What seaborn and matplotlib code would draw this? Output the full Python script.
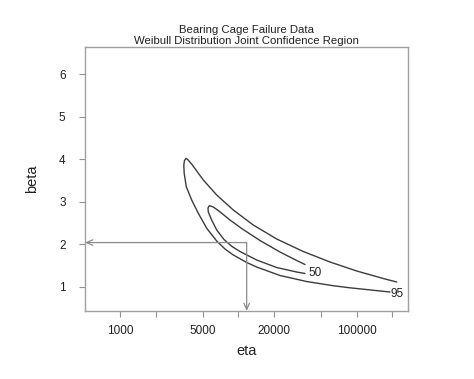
import numpy as np
import pandas as pd
import seaborn as sns
import matplotlib
matplotlib.use('Agg')
import matplotlib.pyplot as plt
from matplotlib.ticker import FixedLocator, FixedFormatter, NullLocator

# contour traces (eta, beta), upper branch -> tip -> lower branch
eta_95 = [218300, 168200, 100200, 59600, 35430, 21120, 13390, 9073, 6568, 5059,
          4061, 3756, 3613, 3510, 3462, 3489, 3634, 4036, 4592, 5408, 6568, 7719,
          9073, 11780, 14310, 22510, 37850, 63170, 87900, 147900, 191400]
beta_95 = [1.111, 1.193, 1.370, 1.582, 1.829, 2.124, 2.453, 2.807, 3.160, 3.514,
           3.879, 3.989, 4.025, 3.973, 3.867, 3.671, 3.356, 3.042, 2.729, 2.376,
           2.077, 1.888, 1.747, 1.570, 1.464, 1.264, 1.122, 1.024, 0.974, 0.908,
           0.875]
eta_50 = [36640, 31170, 22510, 15260, 10680, 8511, 6776, 6110, 5686, 5545, 5577,
          5957, 6568, 7570, 8846, 10340, 14310, 21120, 31170, 36640]
beta_50 = [1.523, 1.617, 1.817, 2.088, 2.371, 2.571, 2.795, 2.882, 2.908, 2.854,
           2.760, 2.571, 2.336, 2.112, 1.947, 1.829, 1.629, 1.452, 1.346, 1.311]
level_names = ['50', '95']
label_eta = [44460, 219500]
label_beta = [1.316, 0.840]
mle_eta = 11770
mle_beta = 2.04

x_ticks = [1000, 2000, 5000, 10000, 20000, 50000, 100000, 200000]
x_ticklabels = ['1000', '', '5000', '', '20000', '', '100000', '']
y_ticks = [1, 2, 3, 4, 5, 6]

df = pd.concat([
    pd.DataFrame({'eta': eta_50, 'beta': beta_50, 'level': '50'}),
    pd.DataFrame({'eta': eta_95, 'beta': beta_95, 'level': '95'}),
])

sns.set_style('white')
plt.rcParams['font.family'] = ['Liberation Sans', 'DejaVu Sans']

fig = plt.figure(figsize=(4.74, 3.79), dpi=100)
ax = fig.add_axes([0.1793, 0.1794, 0.6815, 0.6966])

sns.lineplot(data=df, x='eta', y='beta', units='level', estimator=None, sort=False,
             color='#3c3c3c', linewidth=1.0, ax=ax)

for name, lx, ly in zip(level_names, label_eta, label_beta):
    ax.text(lx, ly, name, ha='center', va='center', fontsize=8.5, color='#202020')

gray = '#8c8c8c'
ax.annotate('', xy=(0, mle_beta), xycoords=('axes fraction', 'data'),
            xytext=(mle_eta, mle_beta), textcoords='data',
            arrowprops=dict(arrowstyle='->,head_length=0.45,head_width=0.2',
                            color=gray, lw=0.9, shrinkA=0, shrinkB=0))
ax.annotate('', xy=(mle_eta, 0), xycoords=('data', 'axes fraction'),
            xytext=(mle_eta, mle_beta), textcoords='data',
            arrowprops=dict(arrowstyle='->,head_length=0.45,head_width=0.2',
                            color=gray, lw=0.9, shrinkA=0, shrinkB=0))

ax.set_xscale('log')
ax.set_xlim(506, 272000)
ax.set_ylim(0.4276, 6.647)
ax.xaxis.set_major_locator(FixedLocator(x_ticks))
ax.xaxis.set_major_formatter(FixedFormatter(x_ticklabels))
ax.xaxis.set_minor_locator(NullLocator())
ax.set_yticks(y_ticks)
ax.set_yticklabels([str(v) for v in y_ticks])

for s in ax.spines.values():
    s.set_color('#a0a0a0')
    s.set_linewidth(1.0)
ax.tick_params(axis='both', direction='out', length=4, width=0.8, color='#909090',
               labelsize=8.5, labelcolor='#202020', bottom=True, left=True)
ax.tick_params(axis='x', pad=6)
ax.tick_params(axis='y', pad=10)

ax.set_xlabel('eta', fontsize=10.5, color='#202020', labelpad=5)
ax.set_ylabel('beta', fontsize=10.5, color='#202020', labelpad=14)
ax.set_title('Bearing Cage Failure Data\nWeibull Distribution Joint Confidence Region',
             fontsize=8.2, color='#202020', pad=2, linespacing=1.1)

fig.savefig('out.png', dpi=100, facecolor='white')
